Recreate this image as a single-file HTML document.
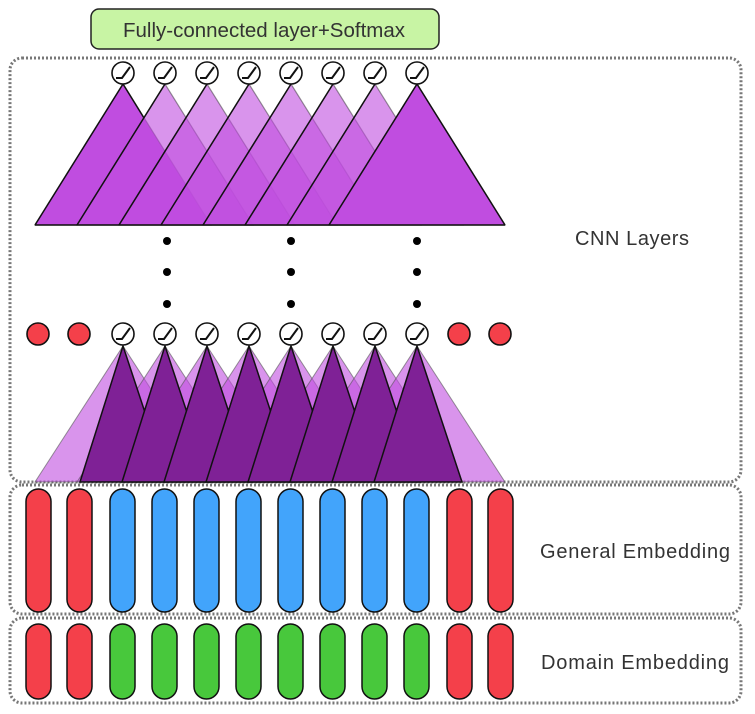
<!DOCTYPE html>
<html><head><meta charset="utf-8"><style>body{margin:0;background:#fff}svg{display:block}</style></head><body>
<svg width="755" height="714" viewBox="0 0 755 714" xmlns="http://www.w3.org/2000/svg" font-family="Liberation Sans, sans-serif">
<g fill="none" stroke="#777" stroke-width="3" stroke-dasharray="2 2">
<rect x="10" y="58" width="731" height="424" rx="12"/>
<rect x="10" y="485" width="731" height="129" rx="12"/>
<rect x="10" y="618" width="731" height="85" rx="12"/>
</g>
<rect x="91" y="9" width="348" height="40" rx="8" fill="#c8f4a4" stroke="#222" stroke-width="1.5"/>
<text x="264" y="37" font-size="20.5" text-anchor="middle" fill="#333">Fully-connected layer+Softmax</text>
<g stroke="#333" stroke-width="1.2" stroke-opacity="0.5">
<polygon points="123,84 35,225 211,225" fill="#c04de0"/>
<polygon points="165,84 77,225 253,225" fill="#c04de0" fill-opacity="0.6"/>
<polygon points="207,84 119,225 295,225" fill="#c04de0" fill-opacity="0.6"/>
<polygon points="249,84 161,225 337,225" fill="#c04de0" fill-opacity="0.6"/>
<polygon points="291,84 203,225 379,225" fill="#c04de0" fill-opacity="0.6"/>
<polygon points="333,84 245,225 421,225" fill="#c04de0" fill-opacity="0.6"/>
<polygon points="375,84 287,225 463,225" fill="#c04de0" fill-opacity="0.6"/>
<polygon points="417,84 329,225 505,225" fill="#c04de0"/>
</g>
<g stroke="#111" stroke-width="1.5">
<line x1="123" y1="84" x2="35" y2="225"/><line x1="165" y1="84" x2="77" y2="225"/><line x1="207" y1="84" x2="119" y2="225"/>
<line x1="249" y1="84" x2="161" y2="225"/><line x1="291" y1="84" x2="203" y2="225"/><line x1="333" y1="84" x2="245" y2="225"/>
<line x1="375" y1="84" x2="287" y2="225"/><line x1="417" y1="84" x2="329" y2="225"/><line x1="417" y1="84" x2="505" y2="225"/>
<line x1="35" y1="225" x2="505" y2="225"/>
<line x1="123" y1="84" x2="144" y2="118"/>
</g>
<g fill="#000">
<circle cx="167" cy="241" r="4"/><circle cx="167" cy="272" r="4"/><circle cx="167" cy="304" r="4"/>
<circle cx="291" cy="241" r="4"/><circle cx="291" cy="272" r="4"/><circle cx="291" cy="304" r="4"/>
<circle cx="417" cy="241" r="4"/><circle cx="417" cy="272" r="4"/><circle cx="417" cy="304" r="4"/>
</g>
<g stroke="#555" stroke-width="1" stroke-opacity="0.6" fill="#c04de0" fill-opacity="0.6">
<polygon points="123,346 35,482 211,482"/>
<polygon points="165,346 77,482 253,482"/>
<polygon points="207,346 119,482 295,482"/>
<polygon points="249,346 161,482 337,482"/>
<polygon points="291,346 203,482 379,482"/>
<polygon points="333,346 245,482 421,482"/>
<polygon points="375,346 287,482 463,482"/>
<polygon points="417,346 329,482 505,482"/>
</g>
<g stroke="#111" stroke-width="1.5" fill="#7f2196">
<polygon points="123,346 80,482 168,482"/>
<polygon points="165,346 122,482 210,482"/>
<polygon points="207,346 164,482 252,482"/>
<polygon points="249,346 206,482 294,482"/>
<polygon points="291,346 248,482 336,482"/>
<polygon points="333,346 290,482 378,482"/>
<polygon points="375,346 332,482 420,482"/>
<polygon points="417,346 374,482 462,482"/>
</g>
<g stroke="#111" stroke-width="1.6">
<g fill="#fff">
<circle cx="123" cy="73" r="11"/><circle cx="165" cy="73" r="11"/><circle cx="207" cy="73" r="11"/><circle cx="249" cy="73" r="11"/>
<circle cx="291" cy="73" r="11"/><circle cx="333" cy="73" r="11"/><circle cx="375" cy="73" r="11"/><circle cx="417" cy="73" r="11"/>
<circle cx="123" cy="334" r="11"/><circle cx="165" cy="334" r="11"/><circle cx="207" cy="334" r="11"/><circle cx="249" cy="334" r="11"/>
<circle cx="291" cy="334" r="11"/><circle cx="333" cy="334" r="11"/><circle cx="375" cy="334" r="11"/><circle cx="417" cy="334" r="11"/>
</g>
<g fill="none" stroke-width="2">
<path d="M116 78h6l8-11"/><path d="M158 78h6l8-11"/><path d="M200 78h6l8-11"/><path d="M242 78h6l8-11"/>
<path d="M284 78h6l8-11"/><path d="M326 78h6l8-11"/><path d="M368 78h6l8-11"/><path d="M410 78h6l8-11"/>
<path d="M116 339h6l8-11"/><path d="M158 339h6l8-11"/><path d="M200 339h6l8-11"/><path d="M242 339h6l8-11"/>
<path d="M284 339h6l8-11"/><path d="M326 339h6l8-11"/><path d="M368 339h6l8-11"/><path d="M410 339h6l8-11"/>
</g>
<g fill="#f4404a">
<circle cx="38" cy="334" r="11"/><circle cx="79" cy="334" r="11"/><circle cx="459" cy="334" r="11"/><circle cx="500" cy="334" r="11"/>
</g>
</g>
<g stroke="#111" stroke-width="1.5">
<g fill="#f4404a">
<rect x="26" y="489" width="25" height="123" rx="12.5"/><rect x="67" y="489" width="25" height="123" rx="12.5"/>
<rect x="447" y="489" width="25" height="123" rx="12.5"/><rect x="488" y="489" width="25" height="123" rx="12.5"/>
<rect x="26" y="624" width="25" height="75" rx="12.5"/><rect x="67" y="624" width="25" height="75" rx="12.5"/>
<rect x="447" y="624" width="25" height="75" rx="12.5"/><rect x="488" y="624" width="25" height="75" rx="12.5"/>
</g>
<g fill="#42a4fb">
<rect x="110" y="489" width="25" height="123" rx="12.5"/><rect x="152" y="489" width="25" height="123" rx="12.5"/>
<rect x="194" y="489" width="25" height="123" rx="12.5"/><rect x="236" y="489" width="25" height="123" rx="12.5"/>
<rect x="278" y="489" width="25" height="123" rx="12.5"/><rect x="320" y="489" width="25" height="123" rx="12.5"/>
<rect x="362" y="489" width="25" height="123" rx="12.5"/><rect x="404" y="489" width="25" height="123" rx="12.5"/>
</g>
<g fill="#48c83c">
<rect x="110" y="624" width="25" height="75" rx="12.5"/><rect x="152" y="624" width="25" height="75" rx="12.5"/>
<rect x="194" y="624" width="25" height="75" rx="12.5"/><rect x="236" y="624" width="25" height="75" rx="12.5"/>
<rect x="278" y="624" width="25" height="75" rx="12.5"/><rect x="320" y="624" width="25" height="75" rx="12.5"/>
<rect x="362" y="624" width="25" height="75" rx="12.5"/><rect x="404" y="624" width="25" height="75" rx="12.5"/>
</g>
</g>
<g font-size="20" fill="#333" text-anchor="middle">
<text x="632" y="245" textLength="114">CNN Layers</text>
<text x="635" y="558" textLength="190">General Embedding</text>
<text x="635" y="669" textLength="188">Domain Embedding</text>
</g>
</svg>
</body></html>
